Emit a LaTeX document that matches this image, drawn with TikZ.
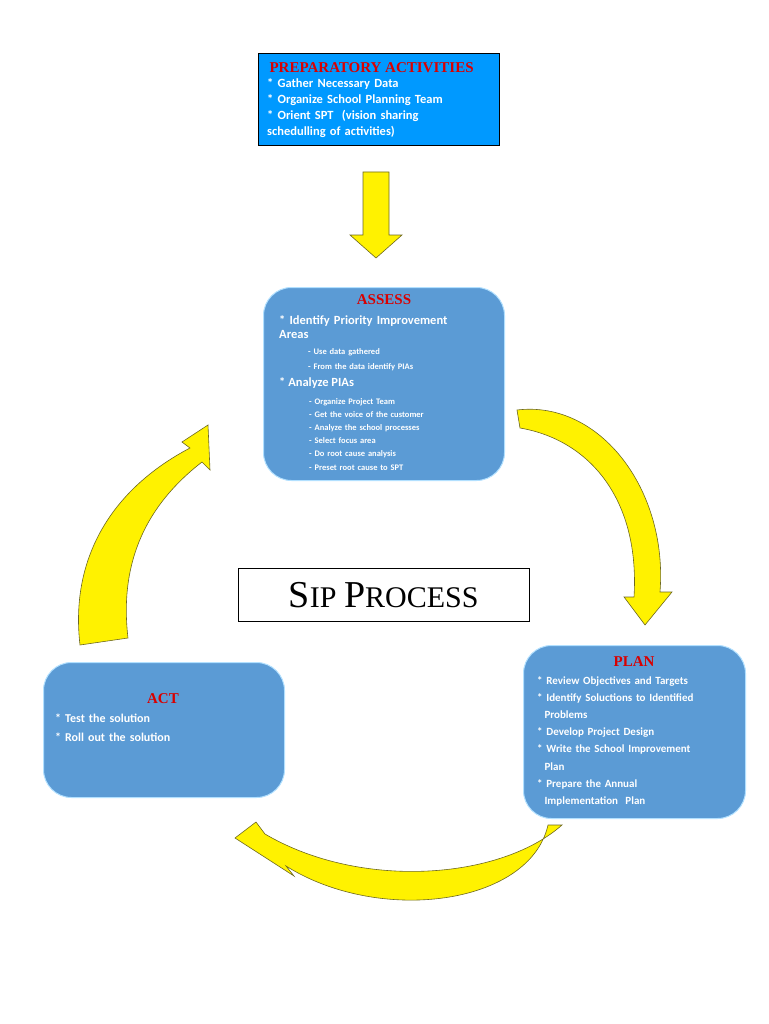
\documentclass[tikz,border=0pt]{standalone}
\usepackage{fontspec}
\setmainfont{Carlito}
\newfontfamily\ttl{Liberation Serif}
\newcommand{\fs}[2]{\fontsize{#1}{#2}\selectfont}
\begin{document}
\begin{tikzpicture}[x=1pt,y=-1pt,
 box/.style={draw=blue!40!cyan!30, line width=1pt, fill=boxblue, rounded corners=28pt, inner sep=0pt},
 yarr/.style={fill=yellow, draw=olive!70!black, line width=0.6pt},
 tt/.style={text=red!85!black, font=\ttl\bfseries\fs{15}{15}},
 txt/.style={text=white, font=\bfseries, anchor=north west, align=left, inner sep=0pt}]
\definecolor{boxblue}{RGB}{91,155,213}
\definecolor{prepblue}{RGB}{0,153,255}
\useasboundingbox (0,0) rectangle (768,1024);
% preparatory
\node[draw=black, fill=prepblue, minimum width=241pt, minimum height=92pt, anchor=north west, inner sep=0pt] (prep) at (258,53) {};
\node[tt, anchor=north west, font=\ttl\bfseries\fs{15}{15}] (prept) at (266,59) {PREPARATORY ACTIVITIES};
\node[txt, font=\bfseries\fs{12.5}{16}, text width=232pt] (prepx) at (267,78) {* Gather Necessary Data\\{}* Organize School Planning Team\\{}* Orient SPT\ \ (vision sharing\\{}schedulling of activities)};
% down arrow
\draw[yarr] (363,172) -- (389,172) -- (389,235) -- (402,235) -- (376,258) -- (350,235) -- (363,235) -- cycle;
% assess
\node[box, minimum width=241pt, minimum height=193pt, anchor=north west] (assess) at (263,287) {};
\node[tt] (assesst) at (384,300) {ASSESS};
\node[txt, font=\bfseries\fs{12.5}{14}, text width=215pt] (a1) at (279,315) {* Identify Priority Improvement\\{}Areas};
\node[txt, font=\bfseries\fs{8.5}{15.5}, text width=180pt] (a2) at (308,348) {- Use data gathered\\{}- From the data identify PIAs};
\node[txt, font=\bfseries\fs{12.5}{14}] (a3) at (279,377) {* Analyze PIAs};
\node[txt, font=\bfseries\fs{8.5}{13.2}, text width=180pt] (a4) at (309,398) {- Organize Project Team\\{}- Get the voice of the customer\\{}- Analyze the school processes\\{}- Select focus area\\{}- Do root cause analysis\\{}- Preset root cause to SPT};
% SIP
\node[draw=black, fill=white, minimum width=291pt, minimum height=53pt, anchor=north west] (sip) at (238,568) {};
\node[font=\ttl] at (sip.center) {\fs{38}{38}S\fs{30}{30}IP \fs{38}{38}P\fs{30}{30}ROCESS};
% plan
\node[box, minimum width=222pt, minimum height=173pt, anchor=north west] (plan) at (523,645) {};
\node[tt] (plant) at (634,662) {PLAN};
\node[txt, font=\bfseries\fs{11}{17.2}, text width=215pt] (p1) at (537,676) {* Review Objectives and Targets\\{}* Identify Soluctions to Identified\\{}\ \ Problems\\{}* Develop Project Design\\{}* Write the School Improvement\\{}\ \ Plan\\{}* Prepare the Annual\\{}\ \ Implementation\ \ Plan};
% act
\node[box, minimum width=241pt, minimum height=135pt, anchor=north west] (act) at (43,662) {};
\node[tt] (actt) at (163,699) {ACT};
\node[txt, font=\bfseries\fs{12}{18.5}, text width=200pt] (ac1) at (55,714) {* Test the solution\\{}* Roll out the solution};
% curved arrows
\draw[yarr] (517,410) .. controls (600,400) and (668,490) .. (660,592) -- (672,592) -- (645,625) -- (624,597) -- (634,597) .. controls (640,500) and (590,440) .. (520,428) -- cycle;
\draw[yarr] (548,825) .. controls (530,905) and (380,925) .. (286,866) -- (294,876) -- (235,838) -- (256,822) -- (265,834) .. controls (360,890) and (500,880) .. (562,825) -- cycle;
\draw[yarr] (80,645) .. controls (70,560) and (110,490) .. (190,448) -- (182,442) -- (208,425) -- (210,470) -- (202,462) .. controls (140,510) and (120,570) .. (128,638) -- cycle;
\end{tikzpicture}
\end{document}
